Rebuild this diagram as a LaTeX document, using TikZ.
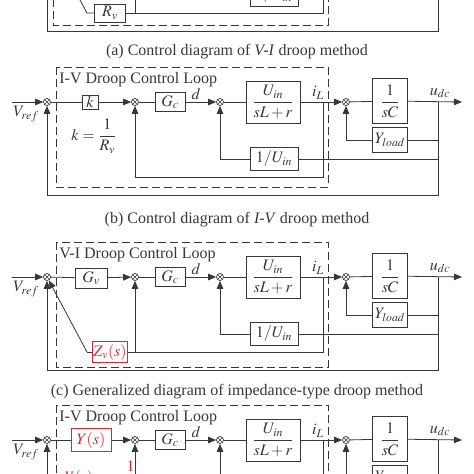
\documentclass[tikz,border=0pt]{standalone}
\usepackage{amsmath}
\usepackage{mathptmx}
\usepackage{fontspec}
\setmainfont{Liberation Serif}
\usetikzlibrary{arrows.meta}
\definecolor{linegray}{RGB}{55,55,55}
\definecolor{zred}{RGB}{205,45,50}

% common part of one droop loop: #1 prefix, #2 bottom of dashed box, #3 loop title
\newcommand{\droopcore}[3]{%
  \node[sumj] (#1s1) at (47,0) {};
  \node[sumj] (#1s2) at (135,0) {};
  \node[blk,minimum width=30pt,minimum height=19pt] (#1gc) at (170,0) {$G_c$};
  \node[sumj] (#1s3) at (220,0) {};
  \node[blk,minimum width=54pt,minimum height=42pt] (#1pl) at (273,0) {$\dfrac{U_{in}}{sL+r}$};
  \node[sumj] (#1s4) at (346,0) {};
  \node[blk,minimum width=35pt,minimum height=45pt] (#1cap) at (390,-1) {$\dfrac{1}{sC}$};
  \node[blk,minimum width=35pt,minimum height=25pt] (#1yl) at (390,38) {$Y_{load}$};
  \node[blk,minimum width=48pt,minimum height=23pt] (#1ui) at (274,57) {$1/U_{in}$};
  \coordinate (#1in) at (12,0);
  \coordinate (#1il) at (323,0);
  \coordinate (#1ud) at (438,0);
  \coordinate (#1out) at (462,0);
  \coordinate (#1fb) at (135,75);
  \coordinate (#1ob) at (47,93);
  \node[lbl] (#1vref) at (26,12) {$V_{ref}$};
  \node[lbl] (#1d) at (196,-8) {$d$};
  \node[lbl] (#1iL) at (318,-9) {$i_L$};
  \node[lbl] (#1udc) at (440,-9) {$u_{dc}$};
  \node[lbl,anchor=west] (#1title) at (58,-22) {#3};
  \draw[->] (#1in) -- (#1s1);
  \draw (#1s2) -- (#1gc);
  \draw[->] (#1gc) -- (#1s3);
  \draw (#1s3) -- (#1pl);
  \draw[->] (#1pl) -- (#1s4);
  \draw (#1s4) -- (#1cap);
  \draw[->] (#1cap) -- (#1out);
  \draw (#1ud) |- (#1yl);
  \draw[->] (#1yl) -| (#1s4);
  \draw (#1ud) |- (#1ui);
  \draw[->] (#1ui) -| (#1s3);
  \draw (#1il) |- (#1fb);
  \draw[->] (#1fb) -- (#1s2);
  \draw (#1ud) |- (#1ob);
  \draw[->] (#1ob) -- (#1s1);
  \draw[loopbox] (56,-35) rectangle (328,#2);
}

\begin{document}
\begin{tikzpicture}[x=1pt,y=-1pt,>={Triangle[length=8pt,width=6.5pt]},color=linegray,line width=0.8pt,
  every node/.style={font=\fontsize{16}{19}\selectfont},
  blk/.style={draw,line width=1pt,inner sep=1pt},
  rblk/.style={blk,draw=zred,text=zred},
  sumj/.style={circle,draw,inner sep=0pt,minimum size=7pt,line width=0.7pt,
    path picture={\draw[line width=0.5pt] (path picture bounding box.north west)--(path picture bounding box.south east)
      (path picture bounding box.north east)--(path picture bounding box.south west);}},
  lbl/.style={inner sep=1pt},
  loopbox/.style={draw,dash pattern=on 8pt off 4pt,line width=0.8pt}]
\useasboundingbox (0,0) rectangle (474,474);
\clip (0,0) rectangle (474,474);

% (a) V-I droop, only its lower edge is in view
\begin{scope}[shift={(0,-62)}]
\coordinate (as1) at (47,0);
\coordinate (as2) at (135,0);
\coordinate (ail) at (323,0);
\coordinate (aud) at (438,0);
\coordinate (afb) at (135,75);
\coordinate (aob) at (47,93);
\coordinate (akn) at (87,75);
\node[blk,minimum width=48pt,minimum height=23pt] (aui) at (274,57) {$1/U_{in}$};
\node[blk,minimum width=31pt,minimum height=18pt] (arv) at (110,75) {$R_v$};
\draw (ail) |- (afb); \draw (afb) -- (as2);
\draw (afb) -- (arv); \draw (arv) -- (akn) -- (as1);
\draw (aud) |- (aob) -- (as1);
\draw[loopbox] (53,-35) rectangle (328,87);
\end{scope}
\node (capa) at (237,52) {(a) Control diagram of \textit{V-I} droop method};

% (b) I-V droop
\begin{scope}[shift={(0,102)}]
\droopcore{b}{85}{I-V Droop Control Loop}
\node[blk,minimum width=16pt,minimum height=14pt] (bk) at (90,0) {$k$};
\node[lbl,anchor=base west] (bkeq) at (70,38) {$k=\dfrac{1}{R_v}$};
\draw (bs1) -- (bk); \draw[->] (bk) -- (bs2);
\end{scope}
\node (capb) at (237,220) {(b) Control diagram of \textit{I-V} droop method};

% (c) impedance-type, V-I form
\begin{scope}[shift={(0,277)}]
\droopcore{c}{90}{V-I Droop Control Loop}
\node[blk,minimum width=32pt,minimum height=20pt] (cgv) at (91,1) {$G_v$};
\node[rblk,minimum width=34pt,minimum height=21pt] (czv) at (110,75) {$Z_v(s)$};
\coordinate (ckn) at (87,75);
\draw (cs1) -- (cgv); \draw[->] (cgv) -- (cs2);
\draw (cfb) -- (czv); \draw (czv) -- (ckn); \draw[->] (ckn) -- (cs1);
\end{scope}
\node (capc) at (237,392) {(c) Generalized diagram of impedance-type droop method};

% (d) impedance-type, I-V form
\begin{scope}[shift={(0,440)}]
\droopcore{d}{90}{I-V Droop Control Loop}
\node[rblk,minimum width=40pt,minimum height=23pt] (dys) at (91,0) {$Y(s)$};
\node[lbl,anchor=base west,text=zred] (dyeq) at (63,42) {$Y(s)=\dfrac{1}{Z_v(s)}$};
\draw (ds1) -- (dys); \draw[->] (dys) -- (ds2);
\end{scope}
\end{tikzpicture}
\end{document}
